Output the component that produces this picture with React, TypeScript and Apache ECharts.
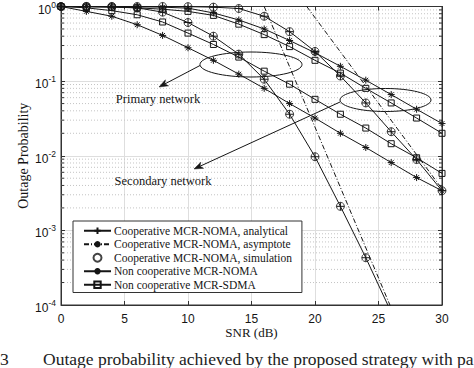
import React, { useEffect, useRef } from "react";
import * as echarts from "echarts";

// ---------- data ----------
const snr = [0, 2, 4, 6, 8, 10, 12, 14, 16, 18, 20, 22, 24, 26, 28, 30];

// Primary network
const primCoopAnalytical = [1, 1, 0.99, 0.96, 0.84, 0.61, 0.4, 0.23, 0.106, 0.036, 0.0097, 0.0021, 0.00043, 0.00008];
const primCoopSimulation = [1, 1, 0.99, 0.96, 0.84, 0.61, 0.4, 0.23, 0.106, 0.036, 0.0097, 0.0021, 0.00043];
const primAsymSnr = [16, 26];
const primAsymVal = [1, 0.000091];
const primNonCoopNoma = [1, 0.86, 0.74, 0.57, 0.41, 0.28, 0.19, 0.124, 0.08, 0.05, 0.032, 0.02, 0.0129, 0.0081, 0.0051, 0.0034];
const primNonCoopSdma = [1, 0.96, 0.88, 0.775, 0.62, 0.44, 0.31, 0.21, 0.136, 0.091, 0.057, 0.036, 0.0235, 0.0145, 0.0094, 0.0058];

// Secondary network
const secCoopAnalytical = [1, 1, 1, 1, 1, 0.995, 0.98, 0.94, 0.74, 0.46, 0.25, 0.117, 0.051, 0.021, 0.0089, 0.0034];
const secCoopSimulation = [1, 1, 1, 1, 1, 0.995, 0.98, 0.94, 0.74, 0.46, 0.25, 0.117, 0.051, 0.021, 0.0089, 0.0034];
const secAsymSnr = [19.35, 30];
const secAsymVal = [1, 0.0036];
const secNonCoopNoma = [1, 1, 0.99, 0.99, 0.98, 0.95, 0.82, 0.66, 0.5, 0.35, 0.24, 0.158, 0.103, 0.066, 0.042, 0.027];
const secNonCoopSdma = [1, 0.99, 0.98, 0.96, 0.92, 0.86, 0.76, 0.58, 0.42, 0.29, 0.19, 0.128, 0.08, 0.051, 0.032, 0.02];

// axes
const xMin = 0;
const xMax = 30;
const xInterval = 5;
const yMin = 1e-4;
const yMax = 1;
const minorMultipliers = [2, 3, 4, 5, 6, 7, 8, 9];
const minorDecades = [1e-4, 1e-3, 1e-2, 1e-1];

const legendNames = [
  "Cooperative MCR-NOMA, analytical",
  "Cooperative MCR-NOMA, asymptote",
  "Cooperative MCR-NOMA, simulation",
  "Non cooperative MCR-NOMA",
  "Non cooperative MCR-SDMA",
];

// ---------- helpers ----------
const pairs = (xs: number[], ys: number[]) => ys.map((y, i) => [xs[i], y]);
const minorVals: number[] = [];
minorDecades.forEach((d) => minorMultipliers.forEach((m) => minorVals.push(+(d * m).toPrecision(3))));

const INK = "#151515";
const PLUS = "path://M5,0L5,10M0,5L10,5";
const STAR = "path://M5,0L5,10M0,5L10,5M1.6,1.6L8.4,8.4M1.6,8.4L8.4,1.6";

function arrow(x1: number, y1: number, x2: number, y2: number) {
  const dx = x2 - x1;
  const dy = y2 - y1;
  const len = Math.sqrt(dx * dx + dy * dy);
  const ux = dx / len;
  const uy = dy / len;
  const px = -uy;
  const py = ux;
  const headLen = 9;
  const half = 3.4;
  const notch = 6.5;
  const bx = x2 - ux * headLen;
  const by = y2 - uy * headLen;
  const nx = x2 - ux * notch;
  const ny = y2 - uy * notch;
  return [
    {
      type: "line",
      shape: { x1, y1, x2: nx, y2: ny },
      style: { stroke: INK, lineWidth: 1 },
      z: 100,
    },
    {
      type: "polygon",
      shape: {
        points: [
          [x2, y2],
          [bx + px * half, by + py * half],
          [nx, ny],
          [bx - px * half, by - py * half],
        ],
      },
      style: { fill: INK, stroke: INK, lineWidth: 0.5 },
      z: 100,
    },
  ];
}

const lineSeries = (name: string, data: number[][], symbol: string, size: number) => ({
  name,
  type: "line",
  data,
  symbol,
  symbolSize: size,
  showSymbol: true,
  lineStyle: { color: INK, width: 1 },
  itemStyle: { color: "transparent", borderColor: INK, borderWidth: 1 },
  emphasis: { disabled: true },
  z: 3,
});

const asymSeries = (data: number[][]) => ({
  name: legendNames[1],
  type: "line",
  data,
  symbol: "none",
  lineStyle: { color: INK, width: 1, type: [5, 2, 1, 2] },
  itemStyle: { color: INK },
  emphasis: { disabled: true },
  z: 3,
});

const simSeries = (data: number[][]) => ({
  name: legendNames[2],
  type: "scatter",
  data,
  symbol: "circle",
  symbolSize: 8,
  itemStyle: { color: "transparent", borderColor: INK, borderWidth: 1 },
  emphasis: { disabled: true },
  z: 4,
});

export default function App() {
  const ref = useRef<HTMLDivElement>(null);

  useEffect(() => {
    if (!ref.current) return;
    const chart = echarts.init(ref.current, undefined, { renderer: "svg" });

    const yLabelRich = {
      b: { fontFamily: "Liberation Sans", fontSize: 12, color: INK, padding: [6, 0, 0, 0] },
      s: { fontFamily: "Liberation Sans", fontSize: 8.5, color: INK, padding: [0, 0, 4, 0] },
    };

    const option: any = {
      animation: false,
      backgroundColor: "#fff",
      grid: {
        left: 61,
        top: 5,
        right: 32,
        bottom: 63,
        show: true,
        borderColor: "#333",
        borderWidth: 1,
        backgroundColor: "#fff",
        containLabel: false,
      },
      xAxis: [
        {
          type: "value",
          min: xMin,
          max: xMax,
          interval: xInterval,
          axisLine: { show: true, onZero: false, lineStyle: { color: "#333" } },
          axisTick: { show: true, inside: true, length: 4, lineStyle: { color: "#333" } },
          axisLabel: { fontFamily: "Liberation Sans", fontSize: 12, color: INK, margin: 8 },
          splitLine: { show: true, lineStyle: { color: "#dedede", width: 1 } },
          name: "SNR (dB)",
          nameLocation: "middle",
          nameGap: 21,
          nameMoveOverlap: false,
          nameTextStyle: { fontFamily: "Liberation Serif", fontSize: 13, color: INK },
        },
        {
          type: "value",
          position: "top",
          min: xMin,
          max: xMax,
          interval: xInterval,
          axisLine: { show: true, onZero: false, lineStyle: { color: "#333" } },
          axisTick: { show: true, inside: true, length: 4, lineStyle: { color: "#333" } },
          axisLabel: { show: false },
          splitLine: { show: false },
        },
      ],
      yAxis: [
        {
          type: "log",
          logBase: 10,
          min: yMin,
          max: yMax,
          splitNumber: 4,
          axisLine: { show: true, onZero: false, lineStyle: { color: "#333" } },
          axisTick: { show: true, inside: true, length: 4, lineStyle: { color: "#333" } },
          axisLabel: {
            margin: 5,
            formatter: (v: number) => "{b|10}{s|" + Math.round(Math.log10(v)) + "}",
            rich: yLabelRich,
          },
          splitLine: { show: true, lineStyle: { color: "#dedede", width: 1 } },
          name: "Outage Probability",
          nameLocation: "middle",
          nameGap: 31,
          nameMoveOverlap: false,
          nameRotate: 90,
          nameTextStyle: { fontFamily: "Liberation Serif", fontSize: 14, color: INK },
        },
        {
          type: "log",
          logBase: 10,
          position: "right",
          min: yMin,
          max: yMax,
          splitNumber: 4,
          axisLine: { show: true, onZero: false, lineStyle: { color: "#333" } },
          axisTick: { show: true, inside: true, length: 4, lineStyle: { color: "#333" } },
          axisLabel: { show: false },
          splitLine: { show: false },
        },
      ],
      legend: {
        orient: "vertical",
        left: 73,
        top: 221,
        padding: [3, 10, 1, 10],
        itemGap: 0,
        itemWidth: 27,
        itemHeight: 8,
        backgroundColor: "#fff",
        borderColor: "#333",
        borderWidth: 1,
        borderRadius: 0,
        selectedMode: false,
        textStyle: {
          fontFamily: "Liberation Serif",
          fontSize: 11.5,
          lineHeight: 13.5,
          color: INK,
          padding: [0, 0, 0, -2],
        },
        data: legendNames,
        z: 20,
      },
      series: [
        {
          type: "custom",
          xAxisIndex: 0,
          yAxisIndex: 0,
          silent: true,
          z: 1,
          data: minorVals.map((v) => [xMin, v]),
          renderItem: (_params: any, api: any) => {
            const v = api.value(1);
            const l = api.coord([xMin, v]);
            const r = api.coord([xMax, v]);
            return {
              type: "group",
              children: [
                {
                  type: "line",
                  shape: { x1: l[0], y1: l[1], x2: r[0], y2: r[1] },
                  style: { stroke: "#c4c4c4", lineWidth: 1, lineDash: [1, 2] },
                },
                {
                  type: "line",
                  shape: { x1: l[0], y1: l[1], x2: l[0] + 3, y2: l[1] },
                  style: { stroke: "#333", lineWidth: 1 },
                },
                {
                  type: "line",
                  shape: { x1: r[0] - 3, y1: r[1], x2: r[0], y2: r[1] },
                  style: { stroke: "#333", lineWidth: 1 },
                },
              ],
            };
          },
        },
        // primary
        lineSeries(legendNames[0], pairs(snr, primCoopAnalytical), PLUS, 8),
        asymSeries(pairs(primAsymSnr, primAsymVal)),
        simSeries(pairs(snr, primCoopSimulation)),
        lineSeries(legendNames[3], pairs(snr, primNonCoopNoma), STAR, 7),
        lineSeries(legendNames[4], pairs(snr, primNonCoopSdma), "rect", 6),
        // secondary
        lineSeries(legendNames[0], pairs(snr, secCoopAnalytical), PLUS, 8),
        asymSeries(pairs(secAsymSnr, secAsymVal)),
        simSeries(pairs(snr, secCoopSimulation)),
        lineSeries(legendNames[3], pairs(snr, secNonCoopNoma), STAR, 7),
        lineSeries(legendNames[4], pairs(snr, secNonCoopSdma), "rect", 6),
      ],
      graphic: [
        {
          type: "ellipse",
          shape: { cx: 251, cy: 64.5, rx: 51, ry: 12.5 },
          style: { fill: "none", stroke: INK, lineWidth: 1 },
          z: 100,
        },
        {
          type: "ellipse",
          shape: { cx: 385.5, cy: 100, rx: 45.5, ry: 11.5 },
          style: { fill: "none", stroke: INK, lineWidth: 1 },
          z: 100,
        },
        ...arrow(200, 65.5, 159, 87),
        ...arrow(340, 102, 194, 169),
        {
          type: "text",
          x: 158,
          y: 99,
          style: {
            text: "Primary network",
            font: '12.5px "Liberation Serif"',
            fill: INK,
            align: "center",
            verticalAlign: "middle",
          },
          z: 100,
        },
        {
          type: "text",
          x: 163,
          y: 181,
          style: {
            text: "Secondary network",
            font: '12.5px "Liberation Serif"',
            fill: INK,
            align: "center",
            verticalAlign: "middle",
          },
          z: 100,
        },
        {
          type: "text",
          x: 0,
          y: 350,
          style: {
            text: "3",
            font: '17.5px "Liberation Serif"',
            fill: "#222",
            align: "left",
            verticalAlign: "top",
          },
          z: 100,
        },
        {
          type: "text",
          x: 43,
          y: 350,
          style: {
            text: "Outage probability achieved by the proposed strategy with pa",
            font: '17.5px "Liberation Serif"',
            fill: "#222",
            align: "left",
            verticalAlign: "top",
          },
          z: 100,
        },
      ],
    };

    chart.setOption(option);
    return () => chart.dispose();
  }, []);

  return (
    <div
      ref={ref}
      style={{ position: "fixed", left: 0, top: 0, width: 474, height: 368, background: "#fff" }}
    />
  );
}
